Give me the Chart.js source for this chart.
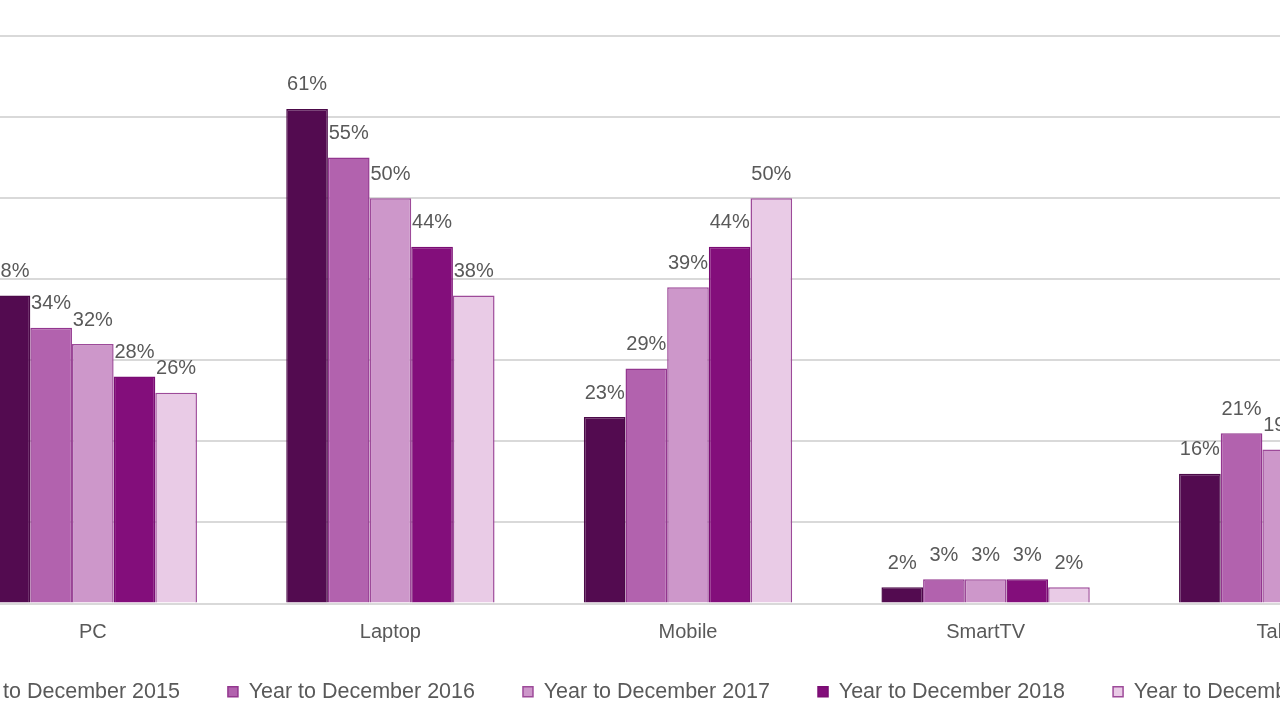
<!DOCTYPE html>
<html>
<head>
<meta charset="utf-8">
<script src="https://cdn.jsdelivr.net/npm/chart.js@4.4.1/dist/chart.umd.min.js"></script>
<style>
  html, body { margin: 0; padding: 0; background: #fff; overflow: hidden; }
  body { width: 1280px; height: 720px; position: relative; }
  /* the reference is a crop of a wider chart, so the canvas sticks out on all sides */
  #wrap { position: absolute; left: -131px; top: 0; width: 1563px; height: 728px; }
</style>
</head>
<body>
<div id="wrap"><canvas id="chart"></canvas></div>
<script>
// Categories and series (share of adults, %)
const categories = ['PC', 'Laptop', 'Mobile', 'SmartTV', 'Tablet'];
const seriesNames = [
    'Year to December 2015',
    'Year to December 2016',
    'Year to December 2017',
    'Year to December 2018',
    'Year to December 2019'
];
const y2015 = [38, 61, 23, 2, 16];
const y2016 = [34, 55, 29, 3, 21];
const y2017 = [32, 50, 39, 3, 19];
const y2018 = [28, 44, 44, 3, 17];
const y2019 = [26, 38, 50, 2, 16];
const yTicks = [0, 10, 20, 30, 40, 50, 60, 70];

const fills = ['#530b50', '#b262ae', '#cd97ca', '#830e7b', '#e9cbe6'];
const borders = ['#4c0a49', '#93378f', '#9d4a99', '#7a0d73', '#9d4a99'];

const FONT = '"Liberation Sans", Arial, sans-serif';
const GREY = '#595959';

// Percentage labels above every bar
const valueLabels = {
    id: 'valueLabels',
    afterDatasetsDraw(chart) {
        const ctx = chart.ctx;
        ctx.save();
        ctx.font = '20px ' + FONT;
        ctx.fillStyle = GREY;
        ctx.textAlign = 'center';
        ctx.textBaseline = 'middle';
        chart.data.datasets.forEach((ds, i) => {
            const meta = chart.getDatasetMeta(i);
            meta.data.forEach((bar, j) => {
                ctx.fillText(ds.data[j] + '%', bar.x, bar.y - 24);
            });
        });
        ctx.restore();
    }
};

// nudge the legend up/left after layout, closer to the original spacing
const legendNudge = {
    id: 'legendNudge',
    afterLayout(chart) {
        const lg = chart.legend;
        if (!lg) return;
        lg.top -= 14.5; lg.bottom -= 14.5;
        lg.left -= 4; lg.right -= 4;
    }
};

const allSeries = [y2015, y2016, y2017, y2018, y2019];

new Chart(document.getElementById('chart'), {
    type: 'bar',
    data: {
        labels: categories,
        datasets: allSeries.map((vals, i) => ({
            label: seriesNames[i],
            data: vals,
            backgroundColor: fills[i],
            borderColor: borders[i],
            borderWidth: 1.5,
            categoryPercentage: 0.7,
            barPercentage: 1.0
        }))
    },
    options: {
        responsive: true,
        maintainAspectRatio: false,
        animation: false,
        layout: { padding: { top: 36, bottom: 1, left: 0, right: 0 } },
        scales: {
            x: {
                grid: { display: false },
                border: { display: false },
                ticks: { color: GREY, font: { family: FONT, size: 20 }, padding: 9 },
                afterFit(scale) { scale.height = 44; }
            },
            y: {
                min: yTicks[0],
                max: yTicks[yTicks.length - 1],
                ticks: { display: false, stepSize: 10 },
                grid: { color: '#d9d9d9', lineWidth: 2, drawTicks: false },
                border: { display: false },
                afterFit(scale) { scale.width = 75; }
            }
        },
        plugins: {
            legend: {
                position: 'bottom',
                labels: {
                    boxWidth: 10,
                    boxHeight: 10,
                    padding: 48,
                    color: GREY,
                    font: { family: FONT, size: 21.5 }
                }
            },
            tooltip: { enabled: false }
        }
    },
    plugins: [valueLabels, legendNudge]
});
</script>
</body>
</html>
